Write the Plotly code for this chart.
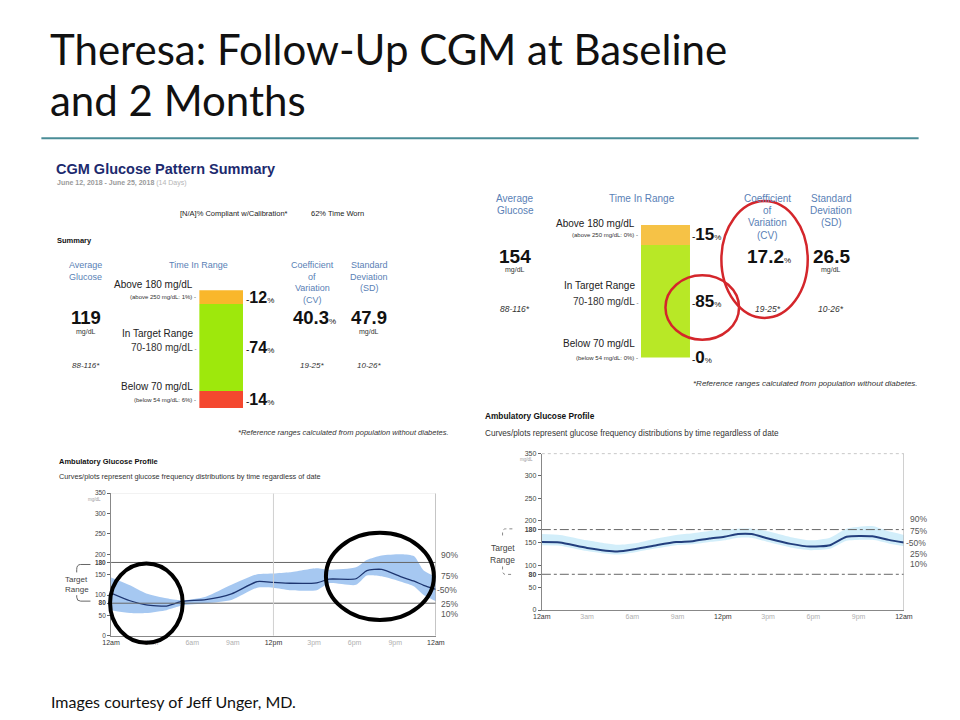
import plotly.graph_objects as go

W, H = 960, 720
def px(x): return x / W
def py(y): return 1 - y / H

FONT = "Liberation Sans"
TITLE_FONT = "Lato"

# ---------------- data ----------------
tir_labels = ["Below 70 mg/dL", "In Target Range", "Above 180 mg/dL"]
tir_sub_base = ["(below 54 mg/dL: 6%)", "70-180 mg/dL", "(above 250 mg/dL: 1%)"]
tir_sub_follow = ["(below 54 mg/dL: 0%)", "70-180 mg/dL", "(above 250 mg/dL: 0%)"]
tir_base = [14, 74, 12]
tir_follow = [0, 85, 15]
tir_colors_base = ["#f4472f", "#9ee80c", "#f9b72b"]
tir_colors_follow = ["#f4472f", "#b8e826", "#f6c246"]

avg_glucose = ["119", "154"]
cv_pct = ["40.3", "17.2"]
sd_mgdl = ["47.9", "26.5"]
ref_avg, ref_cv, ref_sd = "88-116*", "19-25*", "10-26*"

# Ambulatory glucose profile, baseline
agp_hours_base = [0, 1.4, 2.6, 4.1, 4.6, 5.3, 7, 8.9, 10.8, 12, 13.2, 15.2, 16.1, 18.1, 18.9, 20, 21.5, 22.4, 23.1, 24]
agp_median_base = [105, 86, 76, 73, 78, 85, 89, 103, 133, 131, 129, 130, 139, 140, 160, 163, 144, 134, 124, 114]
agp_upper_base = [143, 124, 104, 92, 89, 87, 96, 125, 151, 153, 156, 166, 162, 168, 186, 197, 200, 195, 160, 145]
agp_lower_base = [63, 56, 56, 63, 68, 75, 80, 88, 118, 118, 112, 112, 129, 125, 148, 146, 132, 121, 100, 85]

# Ambulatory glucose profile, 2 months
agp_hours_follow = [0, 1.2, 3, 5, 6.3, 7.6, 8.9, 10, 11.1, 12.1, 13, 13.9, 15, 16.5, 17.8, 19.1, 20.2, 21.9, 23, 24]
agp_median_follow = [152, 151, 139, 131, 137, 145, 152, 154, 160, 164, 170, 170, 160, 148, 142, 145, 164, 165, 157, 151]
agp_upper_follow = [170, 168, 156, 146, 150, 160, 168, 172, 177, 180, 182, 182, 176, 163, 156, 162, 182, 188, 176, 168]
agp_lower_follow = [145, 144, 132, 124, 130, 138, 145, 147, 152, 156, 162, 162, 152, 140, 134, 137, 155, 157, 149, 143]

target_lines = [180, 80]
x_tick_vals = [0, 3, 6, 9, 12, 15, 18, 21, 24]
x_tick_text = ["12am", "3am", "6am", "9am", "12pm", "3pm", "6pm", "9pm", "12am"]
y_tick_vals = [0, 50, 80, 100, 150, 180, 200, 250, 300, 350]
pct_labels = ["90%", "75%", "50%", "25%", "10%"]

# ---------------- figure ----------------
fig = go.Figure()

def xt_text(lbls):
    out = []
    for t in lbls:
        if t in ("12am", "12pm"):
            out.append(f"<span style='color:#333'>{t}</span>")
        else:
            out.append(f"<span style='color:#b0b0b0'>{t}</span>")
    return out

def yt_text(vals):
    return [f"<b>{v}</b>" if v in target_lines else str(v) for v in vals]

# AGP traces
def agp(hours, lower, upper, median, xa, ya, band, line, lw):
    fig.add_trace(go.Scatter(x=hours, y=lower, mode="lines", line=dict(width=0, shape="spline", smoothing=0.6),
                             xaxis=xa, yaxis=ya, showlegend=False, hoverinfo="skip"))
    fig.add_trace(go.Scatter(x=hours, y=upper, mode="lines", line=dict(width=0, shape="spline", smoothing=0.6),
                             fill="tonexty", fillcolor=band, xaxis=xa, yaxis=ya, showlegend=False, hoverinfo="skip"))
    fig.add_trace(go.Scatter(x=hours, y=median, mode="lines", line=dict(width=lw, color=line, shape="spline", smoothing=0.6),
                             xaxis=xa, yaxis=ya, showlegend=False))

agp(agp_hours_base, agp_lower_base, agp_upper_base, agp_median_base, "x", "y", "rgba(150,190,238,0.85)", "#1d3570", 1.3)
agp(agp_hours_follow, agp_lower_follow, agp_upper_follow, agp_median_follow, "x2", "y2", "rgba(205,236,250,0.9)", "#233f7e", 2)

# Time-in-range stacked bars
for i, v in enumerate(tir_base):
    fig.add_trace(go.Bar(x=[0], y=[v], width=1, marker=dict(color=tir_colors_base[i], line=dict(width=0)),
                         xaxis="x3", yaxis="y3", showlegend=False, name=tir_labels[i]))
for i, v in enumerate(tir_follow):
    fig.add_trace(go.Bar(x=[0], y=[v], width=1, marker=dict(color=tir_colors_follow[i], line=dict(width=0)),
                         xaxis="x4", yaxis="y4", showlegend=False, name=tir_labels[i]))

axis_common = dict(fixedrange=True, zeroline=False, showgrid=False)
fig.update_layout(
    width=W, height=H, margin=dict(l=0, r=0, t=0, b=0),
    paper_bgcolor="white", plot_bgcolor="rgba(0,0,0,0)",
    barmode="stack", bargap=0,
    font=dict(family=FONT, color="#222"),
    xaxis=dict(domain=[px(104), px(435)], range=[0, 24], anchor="y", tickvals=x_tick_vals,
               ticktext=xt_text(x_tick_text), ticks="", showline=True, linecolor="#888", linewidth=1,
               tickfont=dict(size=7), **axis_common),
    yaxis=dict(domain=[py(638), py(494)], range=[0, 350], anchor="x", tickvals=y_tick_vals,
               ticktext=yt_text(y_tick_vals), ticks="outside", ticklen=3, tickcolor="#666",
               showline=True, linecolor="#888", linewidth=1, tickfont=dict(size=6.5, color="#444"), **axis_common),
    xaxis2=dict(domain=[px(543), px(912)], range=[0, 24], anchor="y2", tickvals=x_tick_vals,
                ticktext=xt_text(x_tick_text), ticks="", showline=True, linecolor="#888", linewidth=1,
                tickfont=dict(size=7), **axis_common),
    yaxis2=dict(domain=[py(612), py(454)], range=[0, 350], anchor="x2", tickvals=y_tick_vals,
                ticktext=yt_text(y_tick_vals), ticks="outside", ticklen=3, tickcolor="#666",
                showline=True, linecolor="#888", linewidth=1, tickfont=dict(size=7, color="#444"), **axis_common),
    xaxis3=dict(domain=[px(194), px(239)], range=[-0.5, 0.5], anchor="y3", visible=False, **axis_common),
    yaxis3=dict(domain=[py(408), py(289)], range=[0, 100], anchor="x3", visible=False, **axis_common),
    xaxis4=dict(domain=[px(644), px(694)], range=[-0.5, 0.5], anchor="y4", visible=False, **axis_common),
    yaxis4=dict(domain=[py(357), py(223)], range=[0, 100], anchor="x4", visible=False, **axis_common),
)

shapes = []
ann = []

def T(x, y, s, size, color="#222", xa="center", family=FONT, ya="middle", xref="paper", yref="paper", yshift=0):
    ann.append(dict(x=x if xref != "paper" else px(x), y=y if yref != "paper" else py(y), text=s,
                    xref=xref, yref=yref, showarrow=False, xanchor=xa, yanchor=ya, yshift=yshift,
                    font=dict(size=size, color=color, family=family)))

# ---- title + rule ----
T(40, 45.5, "Theresa: Follow-Up CGM at Baseline", 42, "#111", "left", TITLE_FONT)
T(40, 96.5, "and 2 Months", 42, "#111", "left", TITLE_FONT)
shapes.append(dict(type="line", xref="paper", yref="paper", x0=px(33), x1=px(927), y0=py(135.5), y1=py(135.5),
                   line=dict(color="#4a8d97", width=2)))
T(41, 704, "Images courtesy of Jeff Unger, MD.", 16, "#111", "left", TITLE_FONT)

# ---- left report header ----
NAVY = "#1c2a6e"
BLUE = "#5a7fb6"
T(46, 167, "<b>CGM Glucose Pattern Summary</b>", 14.5, NAVY, "left")
T(47, 181, "<b>June 12, 2018 - June 25, 2018</b> <span style='color:#b5b5b5'>(14 Days)</span>", 7, "#9a9a9a", "left")
T(172, 212, "[N/A]% Compliant w/Calibration*", 7.5, "#222", "left")
T(306, 212, "62% Time Worn", 7.5, "#222", "left")
T(47, 239, "<b>Summary</b>", 7.5, "#111", "left")

def summary(cfg):
    hs = cfg["hs"]
    T(cfg["avg_x"], cfg["h1"], "Average", hs, BLUE)
    T(cfg["avg_x"], cfg["h1"] + cfg["lh"], "Glucose", hs, BLUE)
    T(cfg["tir_x"], cfg["h1"], "Time In Range", hs, BLUE)
    for k, w in enumerate(["Coefficient", "of", "Variation", "(CV)"]):
        T(cfg["cv_x"], cfg["h1"] + k * cfg["lh"], w, hs, BLUE)
    for k, w in enumerate(["Standard", "Deviation", "(SD)"]):
        T(cfg["sd_x"], cfg["h1"] + k * cfg["lh"], w, hs, BLUE)
    T(cfg["avg_x"], cfg["num_y"], f"<b>{cfg['avg']}</b>", cfg["ns"], "#111")
    T(cfg["avg_x"], cfg["num_y"] + 14, "mg/dL", 7, "#333")
    T(cfg["cv_x"] + 2, cfg["num_y"], f"<b>{cfg['cv']}</b><span style='font-size:8px'>%</span>", cfg["ns"], "#111")
    T(cfg["sd_x"], cfg["num_y"], f"<b>{cfg['sd']}</b>", cfg["ns"], "#111")
    T(cfg["sd_x"], cfg["num_y"] + 14, "mg/dL", 7, "#333")
    T(cfg["avg_x"], cfg["ref_y"], f"<i>{ref_avg}</i>", cfg["rs"], "#333")
    T(cfg["cv_x"], cfg["ref_y"], f"<i>{ref_cv}</i>", cfg["rs"], "#333")
    T(cfg["sd_x"], cfg["ref_y"], f"<i>{ref_sd}</i>", cfg["rs"], "#333")
    T(cfg["fn_x"], cfg["fn_y"], "<i>*Reference ranges calculated from population without diabetes.</i>", cfg["rs"] - 0.5, "#333", "right")
    # bar labels from data
    vals, subs, xa, ya = cfg["vals"], cfg["subs"], cfg["xa"], cfg["ya"]
    cum = 0
    shifts = cfg["shifts"]
    for i, v in enumerate(vals):
        mid = cum + v / 2
        cum += v
        T(0.5, mid, f"<span style='font-size:10px'>-</span><b>{v}</b><span style='font-size:8px'>%</span>",
          cfg["ps"], "#111", "left", xref=xa, yref=ya)
        sub_size = 10 if subs[i].startswith("70") else 6
        T(cfg["lab_x"], mid, f"{subs[i]}<span style='font-size:6px'> -</span>", sub_size,
          "#333", "right", yref=ya)
        T(cfg["lab_x"] - 3, mid, tir_labels[i], 10, "#222", "right", yref=ya, yshift=shifts[i])

summary(dict(hs=9, lh=11.5, h1=264, avg_x=78, tir_x=193, cv_x=309, sd_x=367, avg=avg_glucose[0], cv=cv_pct[0], sd=sd_mgdl[0],
             ns=18.5, num_y=317, ref_y=365, rs=8, fn_x=450, fn_y=433, vals=tir_base, subs=tir_sub_base,
             xa="x3", ya="y3", ps=16, lab_x=193, shifts=[13, 14, 13]))
summary(dict(hs=10, lh=12.5, h1=196, avg_x=516, tir_x=645, cv_x=773, sd_x=838, avg=avg_glucose[1], cv=cv_pct[1], sd=sd_mgdl[1],
             ns=19, num_y=255, ref_y=308, rs=8.5, fn_x=928, fn_y=383, vals=tir_follow, subs=tir_sub_follow,
             xa="x4", ya="y4", ps=17, lab_x=643, shifts=[14, 16, 11]))

# ---- AGP headers ----
T(49, 462, "<b>Ambulatory Glucose Profile</b>", 7.5, "#111", "left")
T(49, 477, "Curves/plots represent glucose frequency distributions by time regardless of date", 7.3, "#333", "left")
T(483, 416, "<b>Ambulatory Glucose Profile</b>", 8.3, "#111", "left")
T(483, 434, "Curves/plots represent glucose frequency distributions by time regardless of date", 8.2, "#333", "left")

# mg/dL under 350
T(96, 500, "mg/dL", 4.5, "#999", "right")
T(536, 460, "mg/dL", 4.5, "#999", "right")

# Target range labels
T(69, 581, "Target", 8, "#444")
T(69, 591, "Range", 8, "#444")
T(503, 549, "Target", 8.5, "#444")
T(503, 561, "Range", 8.5, "#444")

def P(x, y):
    return f"{px(x)},{py(y)}"
shapes.append(dict(type="path", xref="paper", yref="paper",
                   path=f"M{P(83,566)} L{P(73,566)} Q{P(69,566)} {P(69,571)} L{P(69,574)}",
                   line=dict(color="#666", width=1)))
shapes.append(dict(type="path", xref="paper", yref="paper",
                   path=f"M{P(69,597)} L{P(69,599)} Q{P(69,603)} {P(73,603)} L{P(83,603)}",
                   line=dict(color="#666", width=1)))
shapes.append(dict(type="path", xref="paper", yref="paper",
                   path=f"M{P(513,530)} L{P(506,530)} Q{P(503,530)} {P(503,534)} L{P(503,538)}",
                   line=dict(color="#888", width=1, dash="dot")))
shapes.append(dict(type="path", xref="paper", yref="paper",
                   path=f"M{P(503,568)} L{P(503,572)} Q{P(503,576)} {P(506,576)} L{P(513,576)}",
                   line=dict(color="#888", width=1, dash="dot")))

# percentile labels on right side of AGPs
left_pct_y = [556, 578, 592, 606, 616]
right_pct_y = [520, 532, 544, 555, 566]
for lbl, yy in zip(pct_labels, left_pct_y):
    T(438 if lbl != "50%" else 434, yy, ("-" + lbl) if lbl == "50%" else lbl, 8.5, "#555", "left")
for lbl, yy in zip(pct_labels, right_pct_y):
    T(916 if lbl != "50%" else 912, yy, ("-" + lbl) if lbl == "50%" else lbl, 8.5, "#555", "left")

# target lines, borders
for v in target_lines:
    shapes.append(dict(type="line", xref="x", yref="y", x0=0, x1=24, y0=v, y1=v, line=dict(color="#666", width=1)))
    shapes.append(dict(type="line", xref="x2", yref="y2", x0=0, x1=24, y0=v, y1=v,
                       line=dict(color="#666", width=1, dash="dashdot")))
shapes.append(dict(type="line", xref="x", yref="y", x0=12, x1=12, y0=0, y1=350, line=dict(color="#d0d0d0", width=1)))
shapes.append(dict(type="line", xref="x", yref="y", x0=24, x1=24, y0=0, y1=350, line=dict(color="#999", width=1)))
shapes.append(dict(type="line", xref="x", yref="y", x0=0, x1=24, y0=350, y1=350, line=dict(color="#e6e6e6", width=1)))
shapes.append(dict(type="line", xref="x2", yref="y2", x0=24, x1=24, y0=0, y1=350, line=dict(color="#aaa", width=1)))
shapes.append(dict(type="line", xref="x2", yref="y2", x0=0, x1=24, y0=350, y1=350,
                   line=dict(color="#999", width=1, dash="dot")))

# annotation ellipses
for (x0, y0, x1, y1) in [(103, 565, 177, 645), (323, 534, 433, 622)]:
    shapes.append(dict(type="circle", xref="paper", yref="paper", x0=px(x0), x1=px(x1), y0=py(y1), y1=py(y0),
                       line=dict(color="#000", width=4), layer="above"))
for (x0, y0, x1, y1) in [(726, 199, 814, 317), (669, 274, 744, 339)]:
    shapes.append(dict(type="circle", xref="paper", yref="paper", x0=px(x0), x1=px(x1), y0=py(y1), y1=py(y0),
                       line=dict(color="#d4262b", width=2.5), layer="above"))

fig.update_layout(shapes=shapes, annotations=ann)
fig.write_html("out.html")
